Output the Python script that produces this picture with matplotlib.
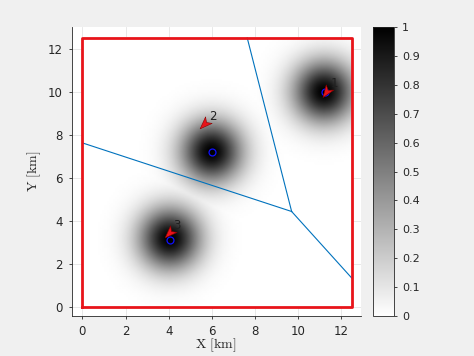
import numpy as np
import matplotlib
matplotlib.use("Agg")
import matplotlib.pyplot as plt
from matplotlib.path import Path

plt.rcParams['mathtext.fontset'] = 'cm'

# ---- data ----
blob_x = [11.25, 6.0, 4.05]
blob_y = [10.0, 7.2, 3.15]
blob_sigma = [1.0, 1.0, 1.0]

agent_x = [11.3, 5.65, 4.0]
agent_y = [10.0, 8.5, 3.45]
agent_heading_deg = [235, 225, 225]
agent_labels = ['1', '2', '3']

vor_edges_x = [[0.0, 9.7], [9.7, 7.64], [9.7, 12.5]]
vor_edges_y = [[7.63, 4.45], [4.45, 12.5], [4.45, 1.35]]

square_x = [0, 12.5, 12.5, 0, 0]
square_y = [0, 0, 12.5, 12.5, 0]

xticks = [0, 2, 4, 6, 8, 10, 12]
yticks = [0, 2, 4, 6, 8, 10, 12]
cbar_ticks = [0, 0.1, 0.2, 0.3, 0.4, 0.5, 0.6, 0.7, 0.8, 0.9, 1]
cbar_ticklabels = ['0', '0.1', '0.2', '0.3', '0.4', '0.5', '0.6', '0.7', '0.8', '0.9', '1']

# ---- density field ----
g = np.linspace(0, 12.5, 126)
X, Y = np.meshgrid(g, g)
Z = np.zeros_like(X)
for bx, by, s in zip(blob_x, blob_y, blob_sigma):
    Z = np.maximum(Z, np.exp(-((X - bx) ** 2 + (Y - by) ** 2) / (2 * s ** 2)))

fig = plt.figure(figsize=(4.74, 3.56), dpi=100, facecolor='#f0f0f0')
ax = fig.add_axes([0.150, 0.112, 0.612, 0.812])
cax = fig.add_axes([0.787, 0.112, 0.044, 0.812])

im = ax.imshow(Z, origin='lower', extent=(0, 12.5, 0, 12.5), cmap='gray_r',
               vmin=0, vmax=1, interpolation='bilinear', zorder=1)

for ex, ey in zip(vor_edges_x, vor_edges_y):
    ax.plot(ex, ey, color='#0072BD', lw=0.8, zorder=3)

ax.plot(square_x, square_y, color='#e8141a', lw=2.0, zorder=4)

ax.plot(blob_x, blob_y, 'o', mfc='none', mec='#1010ff', ms=5, mew=0.9, zorder=5)

def arrow_marker(deg):
    v = np.array([[1.0, 0.0], [-1.0, 0.75], [-0.45, 0.0], [-1.0, -0.75], [1.0, 0.0]])
    t = np.deg2rad(deg)
    R = np.array([[np.cos(t), -np.sin(t)], [np.sin(t), np.cos(t)]])
    v = v @ R.T
    codes = [Path.MOVETO, Path.LINETO, Path.LINETO, Path.LINETO, Path.CLOSEPOLY]
    return Path(v, codes)

for x, y, h, lab in zip(agent_x, agent_y, agent_heading_deg, agent_labels):
    ax.plot([x], [y], marker=arrow_marker(h), ms=11, mfc='#e8141a', mec='#8a0000',
            mew=0.4, ls='none', zorder=6)
    ax.text(x + 0.22, y + 0.2, lab, fontsize=8.5, color='#202020', zorder=7)

ax.set_xlim(-0.5, 12.9)
ax.set_ylim(-0.4, 13.0)
ax.set_xticks(xticks)
ax.set_yticks(yticks)
ax.grid(True, color='#e4e4e4', lw=0.6, zorder=0)
ax.set_axisbelow(True)
for sp in ['top', 'right']:
    ax.spines[sp].set_visible(False)
for sp in ['left', 'bottom']:
    ax.spines[sp].set_color('#262626')
    ax.spines[sp].set_linewidth(0.6)
ax.tick_params(direction='out', length=2.5, width=0.6, colors='#262626', labelsize=8.5,
               labelcolor='#262626', pad=4)
ax.set_xlabel(r'$\mathrm{X\ [km]}$', fontsize=10, color='#262626', labelpad=-1)
ax.set_ylabel(r'$\mathrm{Y\ [km]}$', fontsize=10, color='#262626', labelpad=3)

cb = fig.colorbar(im, cax=cax, ticks=cbar_ticks)
cb.ax.set_yticklabels(cbar_ticklabels)
cb.ax.tick_params(direction='out', length=2.5, width=0.6, colors='#262626', labelsize=8)
cb.outline.set_linewidth(0.6)
cb.outline.set_edgecolor('#262626')

fig.savefig('out.png', dpi=100, facecolor=fig.get_facecolor())
